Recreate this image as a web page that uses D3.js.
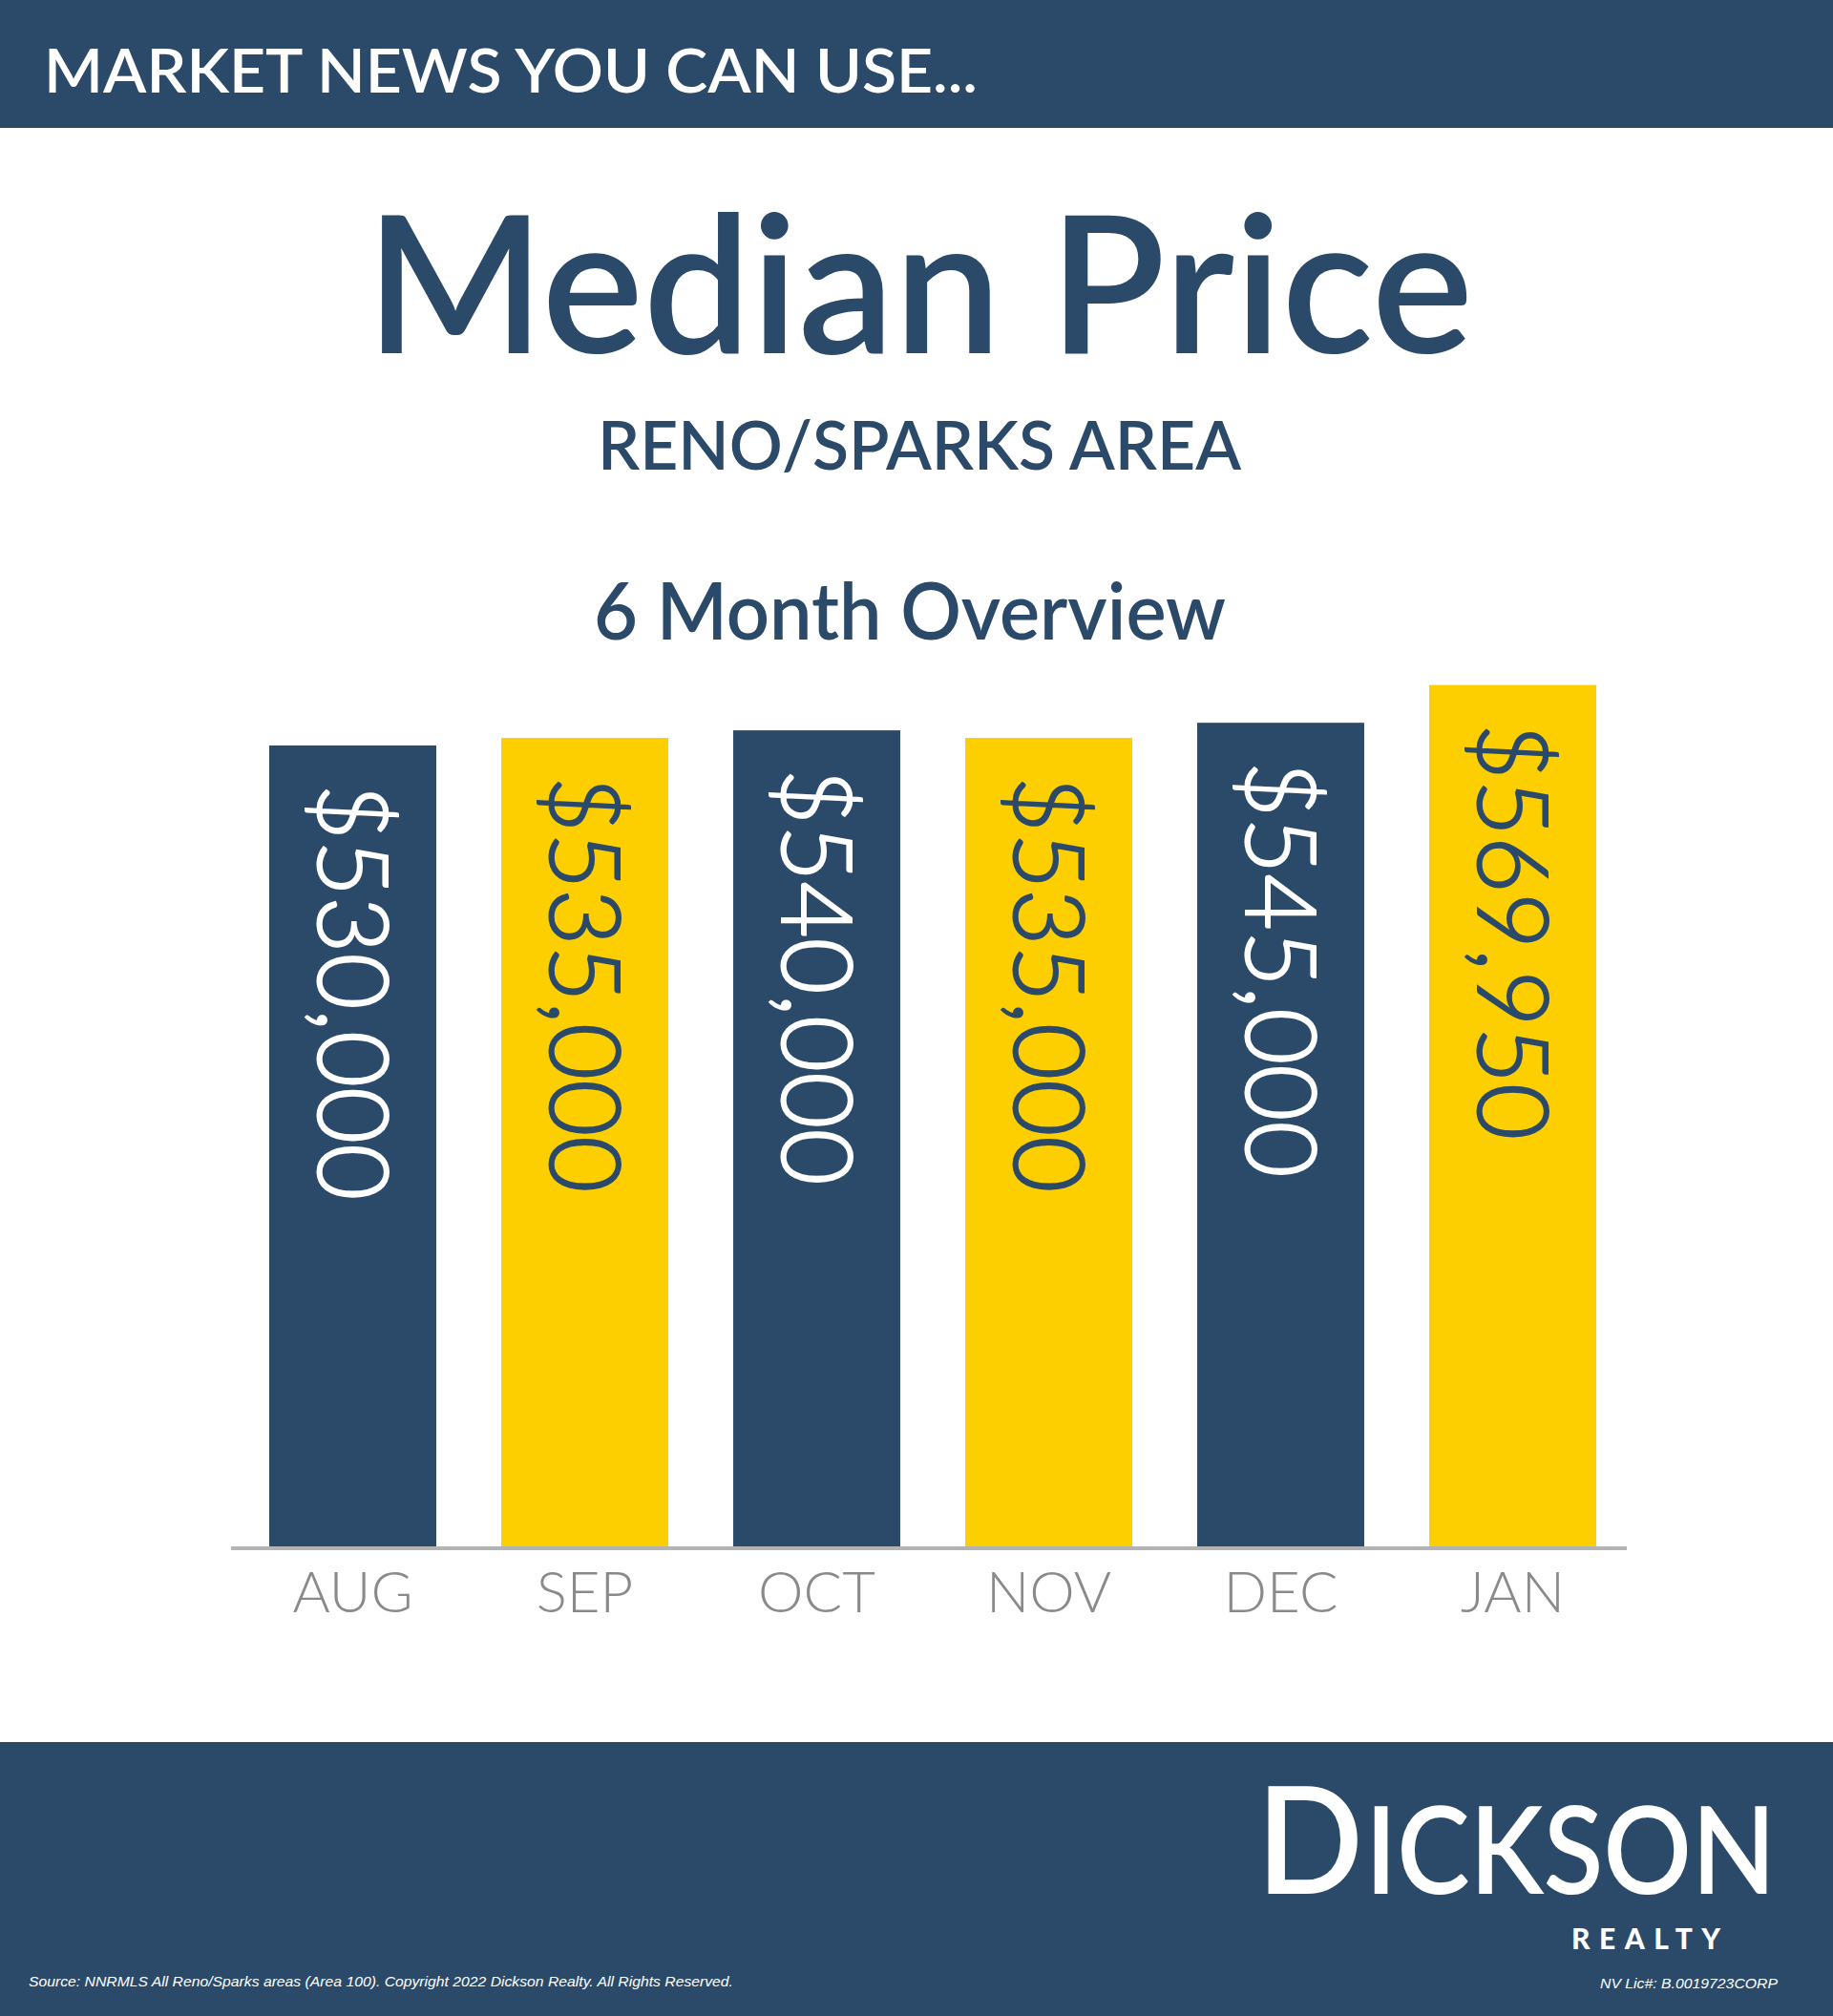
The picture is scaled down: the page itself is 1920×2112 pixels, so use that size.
<!DOCTYPE html>
<html>
<head>
<meta charset="utf-8">
<script src="https://cdn.jsdelivr.net/npm/d3@7"></script>
<style>
  html, body { margin: 0; padding: 0; background: #ffffff; }
  svg { display: block; }
</style>
</head>
<body>
<svg id="chart" width="1920" height="2112"></svg>
<script>
const months = ["AUG", "SEP", "OCT", "NOV", "DEC", "JAN"];
const prices = [530000, 535000, 540000, 535000, 545000, 569950];
const barColors = ["#2b4a69", "#fdcf00", "#2b4a69", "#fdcf00", "#2b4a69", "#fdcf00"];
const labelColors = ["#ffffff", "#2b4a69", "#ffffff", "#2b4a69", "#ffffff", "#2b4a69"];
const headerText = "MARKET NEWS YOU CAN USE...";
const titleText = "Median Price";
const subtitleText = "RENO/SPARKS AREA";
const periodText = "6 Month Overview";
const sourceText = "Source: NNRMLS All Reno/Sparks areas (Area 100). Copyright 2022 Dickson Realty. All Rights Reserved.";
const licenseText = "NV Lic#: B.0019723CORP";

const navy = "#2b4a69";
const svg = d3.select("#chart");
const W = 1920, H = 2112;

// header band
svg.append("rect").attr("x", 0).attr("y", 0).attr("width", W).attr("height", 134).attr("fill", navy);
svg.append("text").attr("x", 46).attr("y", 97)
  .attr("font-family", "Lato").attr("font-weight", 600).attr("font-size", 64)
  .attr("fill", "#ffffff").attr("textLength", 978).attr("lengthAdjust", "spacingAndGlyphs")
  .text(headerText);

// titles
svg.append("text").attr("x", 963).attr("y", 370).attr("text-anchor", "middle")
  .attr("font-family", "Lato").attr("font-weight", 600).attr("font-size", 200)
  .attr("fill", navy).attr("textLength", 1160).attr("lengthAdjust", "spacingAndGlyphs")
  .text(titleText);
svg.append("text").attr("x", 963).attr("y", 492).attr("text-anchor", "middle")
  .attr("font-family", "Lato").attr("font-weight", 600).attr("font-size", 72)
  .attr("fill", navy).attr("textLength", 674).attr("lengthAdjust", "spacingAndGlyphs")
  .text(subtitleText);
svg.append("text").attr("x", 953).attr("y", 670).attr("text-anchor", "middle")
  .attr("font-family", "Lato").attr("font-weight", 600).attr("font-size", 82)
  .attr("fill", navy).attr("textLength", 662).attr("lengthAdjust", "spacingAndGlyphs")
  .text(periodText);

// scales
const x = d3.scaleBand().domain(months).range([248, 1706]).paddingInner(0.28).paddingOuter(0.14);
const y = d3.scaleLinear().domain([0, 600000]).range([1621, 670]);
const fmt = d3.format("$,");

const data = months.map((m, i) => ({ m, v: prices[i], c: barColors[i], lc: labelColors[i] }));

svg.append("g").selectAll("rect").data(data).join("rect")
  .attr("x", d => x(d.m)).attr("y", d => y(d.v))
  .attr("width", x.bandwidth()).attr("height", d => y(0) - y(d.v))
  .attr("fill", d => d.c);

// axis baseline
svg.append("line").attr("x1", x.range()[0] - 6).attr("x2", x.range()[1] - 2)
  .attr("y1", y(0) + 1).attr("y2", y(0) + 1)
  .attr("stroke", "#b3b3b3").attr("stroke-width", 4);

// axis labels
const xAxis = d3.axisBottom(x).tickSize(0).tickPadding(0);
const ax = svg.append("g").attr("transform", `translate(0,${y(0) + 68})`).call(xAxis);
ax.select(".domain").remove();
ax.selectAll("text")
  .attr("font-family", "Lato").attr("font-weight", 300).attr("font-size", 60)
  .attr("fill", "#8a8a8a").attr("dy", 0);

// value labels rotated
svg.append("g").selectAll("text").data(data).join("text")
  .attr("transform", d => `translate(${x(d.m) + x.bandwidth() / 2},${y(d.v) + 40}) rotate(90)`)
  .attr("dy", "0.36em")
  .attr("font-family", "Lato").attr("font-weight", 300).attr("font-size", 102)
  .attr("fill", d => d.lc).attr("stroke", d => d.lc).attr("stroke-width", 2)
  .text(d => fmt(d.v));

// footer band
svg.append("rect").attr("x", 0).attr("y", 1825).attr("width", W).attr("height", H - 1825).attr("fill", navy);
svg.append("text").attr("x", 1316).attr("y", 1984)
  .attr("font-family", "Lato").attr("font-weight", 600).attr("font-size", 156)
  .attr("fill", "#ffffff").attr("textLength", 112).attr("lengthAdjust", "spacingAndGlyphs")
  .text("D");
svg.append("text").attr("x", 1430).attr("y", 1984)
  .attr("font-family", "Lato").attr("font-weight", 600).attr("font-size", 128)
  .attr("fill", "#ffffff").attr("textLength", 430).attr("lengthAdjust", "spacingAndGlyphs")
  .text("ICKSON");
svg.append("text").attr("x", 1646).attr("y", 2042)
  .attr("font-family", "Lato").attr("font-weight", 900).attr("font-size", 30)
  .attr("fill", "#ffffff").attr("textLength", 156).attr("lengthAdjust", "spacing")
  .text("REALTY");
svg.append("text").attr("x", 30).attr("y", 2081)
  .attr("font-family", "Liberation Sans Narrow, Liberation Sans").attr("font-style", "italic").attr("font-size", 15)
  .attr("fill", "#ffffff").attr("textLength", 738).attr("lengthAdjust", "spacingAndGlyphs")
  .text(sourceText);
svg.append("text").attr("x", 1676).attr("y", 2083)
  .attr("font-family", "Liberation Sans Narrow, Liberation Sans").attr("font-style", "italic").attr("font-size", 15)
  .attr("fill", "#ffffff").attr("textLength", 186).attr("lengthAdjust", "spacingAndGlyphs")
  .text(licenseText);
</script>
</body>
</html>
